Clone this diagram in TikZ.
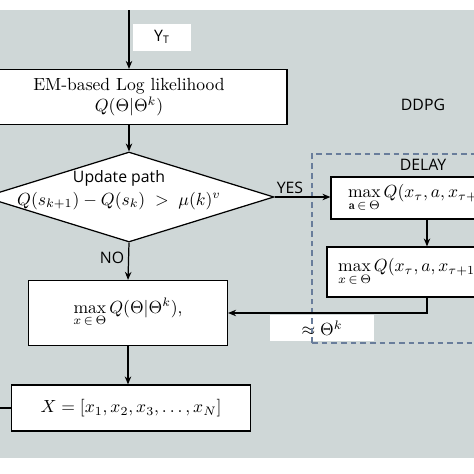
\documentclass[tikz,border=0pt]{standalone}
\usepackage{fontspec}
\setsansfont{Open Sans}
\usetikzlibrary{arrows.meta,shapes.geometric}

\definecolor{panel}{RGB}{207,215,215}
\definecolor{dashblue}{RGB}{105,125,155}

\begin{document}
\begin{tikzpicture}[x=0.02cm, y=-0.02cm, line width=0.7pt,
  >={Stealth[length=1.6mm,width=1.3mm]},
  blk/.style={draw, fill=white, rectangle, inner sep=0pt},
  tag/.style={font=\sffamily\small},
  decision/.style={draw, fill=white, diamond, inner sep=0pt, minimum width=5.8cm, minimum height=1.8cm}]

\useasboundingbox (0,0) rectangle (474,474);
\clip (0,0) rectangle (474,474);

\fill[panel] (0,10) rectangle (474,458); %sfondo

% blocchi
\node[blk, draw=none, tag, minimum width=1.18cm, minimum height=0.54cm] (yt) at (162,37) {Y\textsubscript{T}};
\node[blk, minimum width=6.32cm, minimum height=1.1cm, align=center] (em) at (129,97) {EM-based Log likelihood\\ $Q(\Theta|\Theta^k)$};
\node[decision] (dec) at (129,197) {};
\node[align=center, inner sep=0pt] (dectxt) at (119,190) {{\sffamily\small Update path}\\[1pt] $Q(s_{k+1}) - Q(s_k) \;>\; \mu(k)^v$};
\node[blk, minimum height=0.84cm, inner xsep=0.34cm, text width=3.16cm, align=left] (b1) at (427,198) {$\max\limits_{\mathbf{a}\,\in\,\Theta} Q(x_\tau, a, x_{\tau+1})$};
\node[blk, minimum height=1cm, inner xsep=0.22cm, text width=3.56cm, align=left] (b2) at (427,272) {$\max\limits_{x\,\in\,\Theta} Q(x_\tau, a, x_{\tau+1})$};
\node[blk, minimum width=3.98cm, minimum height=1.3cm] (mx) at (128,313) {$\max\limits_{x\,\in\,\Theta} Q(\Theta|\Theta^k)$,};
\node[blk, minimum width=4.78cm, minimum height=0.92cm] (xb) at (131,408) {$X = [x_1, x_2, x_3, \dots, x_N]$};
\node[blk, draw=none, minimum width=2.08cm, minimum height=0.52cm] (apx) at (322,328) {$\approx\Theta^k$\hspace{0.5cm}};

% etichette
\node[tag] (ddpg) at (423,105) {DDPG};
\node[tag] (delay) at (423,165) {DELAY};
\node[tag] (yes) at (290,188) {YES};
\node[tag] (no) at (112,258) {NO};

% riquadro tratteggiato
\draw[dashblue, line width=0.8pt, dash pattern=on 3.2pt off 2.3pt] (312,343) -- (312,154) -- (480,154) (312,343) -- (480,343);

% frecce
\coordinate (in) at (129,10);
\coordinate (fb) at (0,408);
\draw[->] (in) -- (em);
\draw[->] (em) -- (dec);
\draw[->] (dec.east) -- (dec.east -| b1.west);
\draw[->] (b1) -- (b2);
\draw[->] (b2.south) |- (mx.east);
\draw[->] (dec.south) -- (mx.north);
\draw[->] (mx.south) -- (mx.south |- xb.north);
\draw (fb) -- (xb.west);

\end{tikzpicture}
\end{document}
